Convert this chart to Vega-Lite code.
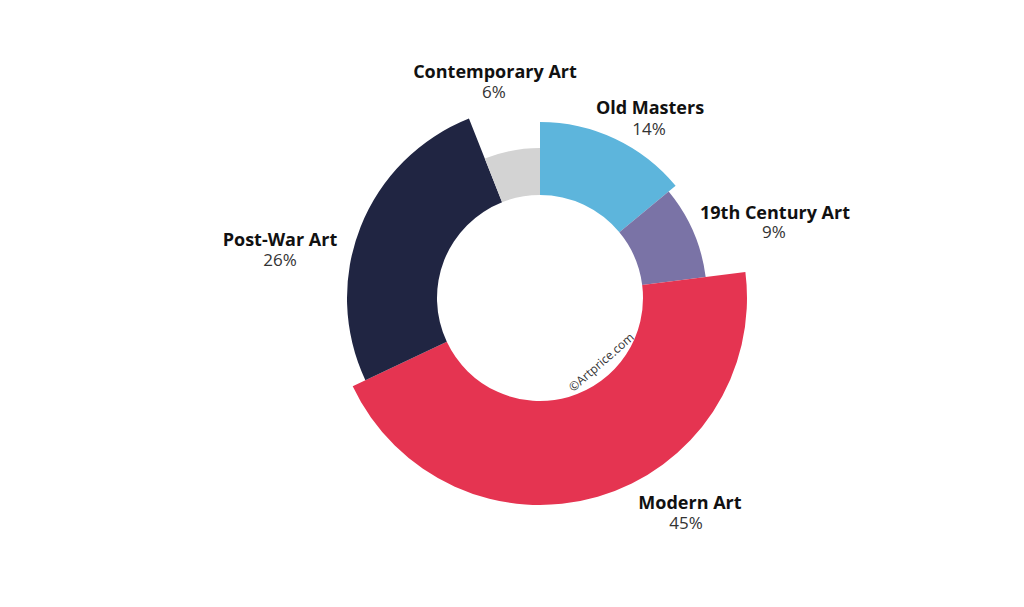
{
  "$schema": "https://vega.github.io/schema/vega-lite/v6.json",
  "width": 1024,
  "height": 607,
  "autosize": {"type": "fit", "contains": "padding"},
  "padding": {"left": 56, "top": 0, "right": 0, "bottom": 11},
  "background": "#ffffff",
  "config": {"view": {"stroke": null}, "font": "Open Sans"},
  "data": {
    "values": [
      {"idx": 1, "cat": "Old Masters", "share": 0.14, "z": 70.4},
      {"idx": 2, "cat": "19th Century Art", "share": 0.09, "z": 66.8},
      {"idx": 3, "cat": "Modern Art", "share": 0.45, "z": 82.8},
      {"idx": 4, "cat": "Post-War Art", "share": 0.26, "z": 77.2},
      {"idx": 5, "cat": "Contemporary Art", "share": 0.06, "z": 60}
    ]
  },
  "transform": [
    {"stack": "share", "groupby": [], "sort": [{"field": "idx", "order": "ascending"}], "as": ["t0", "t1"]}
  ],
  "encoding": {
    "theta": {"field": "t0", "type": "quantitative", "stack": null, "scale": {"domain": [0, 1], "range": [0, 6.283185307179586]}},
    "radius": {"field": "z", "type": "quantitative", "scale": {"type": "linear", "domain": [0, 100], "range": [0, 250], "zero": true}}
  },
  "layer": [
    {
      "mark": {"type": "arc", "innerRadius": 103, "stroke": null},
      "encoding": {
        "theta2": {"field": "t1"},
        "color": {"field": "cat", "type": "nominal", "legend": null,
          "scale": {"domain": ["Old Masters", "19th Century Art", "Modern Art", "Post-War Art", "Contemporary Art"],
                    "range": ["#5DB5DC", "#7A73A6", "#E53451", "#202542", "#D3D3D3"]}}
      }
    },
    {
      "transform": [{"filter": "datum.cat === 'Old Masters'"}],
      "layer": [
        {"mark": {"type": "text", "fontSize": 18, "fontWeight": "bold", "align": "center", "baseline": "alphabetic", "color": "#111111", "dx": 110, "dy": -7.7},
         "encoding": {"text": {"field": "cat"}}},
        {"mark": {"type": "text", "fontSize": 17, "align": "center", "baseline": "alphabetic", "color": "#333333", "dx": 109, "dy": 13},
         "encoding": {"text": {"field": "share", "type": "quantitative", "format": ".0%"}}}
      ]
    },
    {
      "transform": [{"filter": "datum.cat === '19th Century Art'"}],
      "layer": [
        {"mark": {"type": "text", "fontSize": 18, "fontWeight": "bold", "align": "center", "baseline": "alphabetic", "color": "#111111", "dx": 106.3, "dy": 27.4},
         "encoding": {"text": {"field": "cat"}}},
        {"mark": {"type": "text", "fontSize": 17, "align": "center", "baseline": "alphabetic", "color": "#333333", "dx": 105.3, "dy": 46.7},
         "encoding": {"text": {"field": "share", "type": "quantitative", "format": ".0%"}}}
      ]
    },
    {
      "transform": [{"filter": "datum.cat === 'Modern Art'"}],
      "layer": [
        {"mark": {"type": "text", "fontSize": 18, "fontWeight": "bold", "align": "center", "baseline": "alphabetic", "color": "#111111", "dx": -55.4, "dy": 236.9},
         "encoding": {"text": {"field": "cat"}}},
        {"mark": {"type": "text", "fontSize": 17, "align": "center", "baseline": "alphabetic", "color": "#333333", "dx": -59.4, "dy": 257.2},
         "encoding": {"text": {"field": "share", "type": "quantitative", "format": ".0%"}}}
      ]
    },
    {
      "transform": [{"filter": "datum.cat === 'Post-War Art'"}],
      "layer": [
        {"mark": {"type": "text", "fontSize": 18, "fontWeight": "bold", "align": "center", "baseline": "alphabetic", "color": "#111111", "dx": -85.4, "dy": -134.2},
         "encoding": {"text": {"field": "cat"}}},
        {"mark": {"type": "text", "fontSize": 17, "align": "center", "baseline": "alphabetic", "color": "#333333", "dx": -85.4, "dy": -114.2},
         "encoding": {"text": {"field": "share", "type": "quantitative", "format": ".0%"}}}
      ]
    },
    {
      "transform": [{"filter": "datum.cat === 'Contemporary Art'"}],
      "layer": [
        {"mark": {"type": "text", "fontSize": 18, "fontWeight": "bold", "align": "center", "baseline": "alphabetic", "color": "#111111", "dx": 10.2, "dy": -80.8},
         "encoding": {"text": {"field": "cat"}}},
        {"mark": {"type": "text", "fontSize": 17, "align": "center", "baseline": "alphabetic", "color": "#333333", "dx": 9.2, "dy": -60.5},
         "encoding": {"text": {"field": "share", "type": "quantitative", "format": ".0%"}}}
      ]
    },
    {
      "data": {"values": [{"note": "©Artprice.com"}]},
      "transform": [],
      "mark": {"type": "text", "fontSize": 12, "align": "center", "baseline": "middle", "color": "#333333", "theta": 2.379, "radius": 89, "angle": -41},
      "encoding": {"theta": null, "radius": null, "text": {"field": "note", "type": "nominal"}}
    }
  ]
}
